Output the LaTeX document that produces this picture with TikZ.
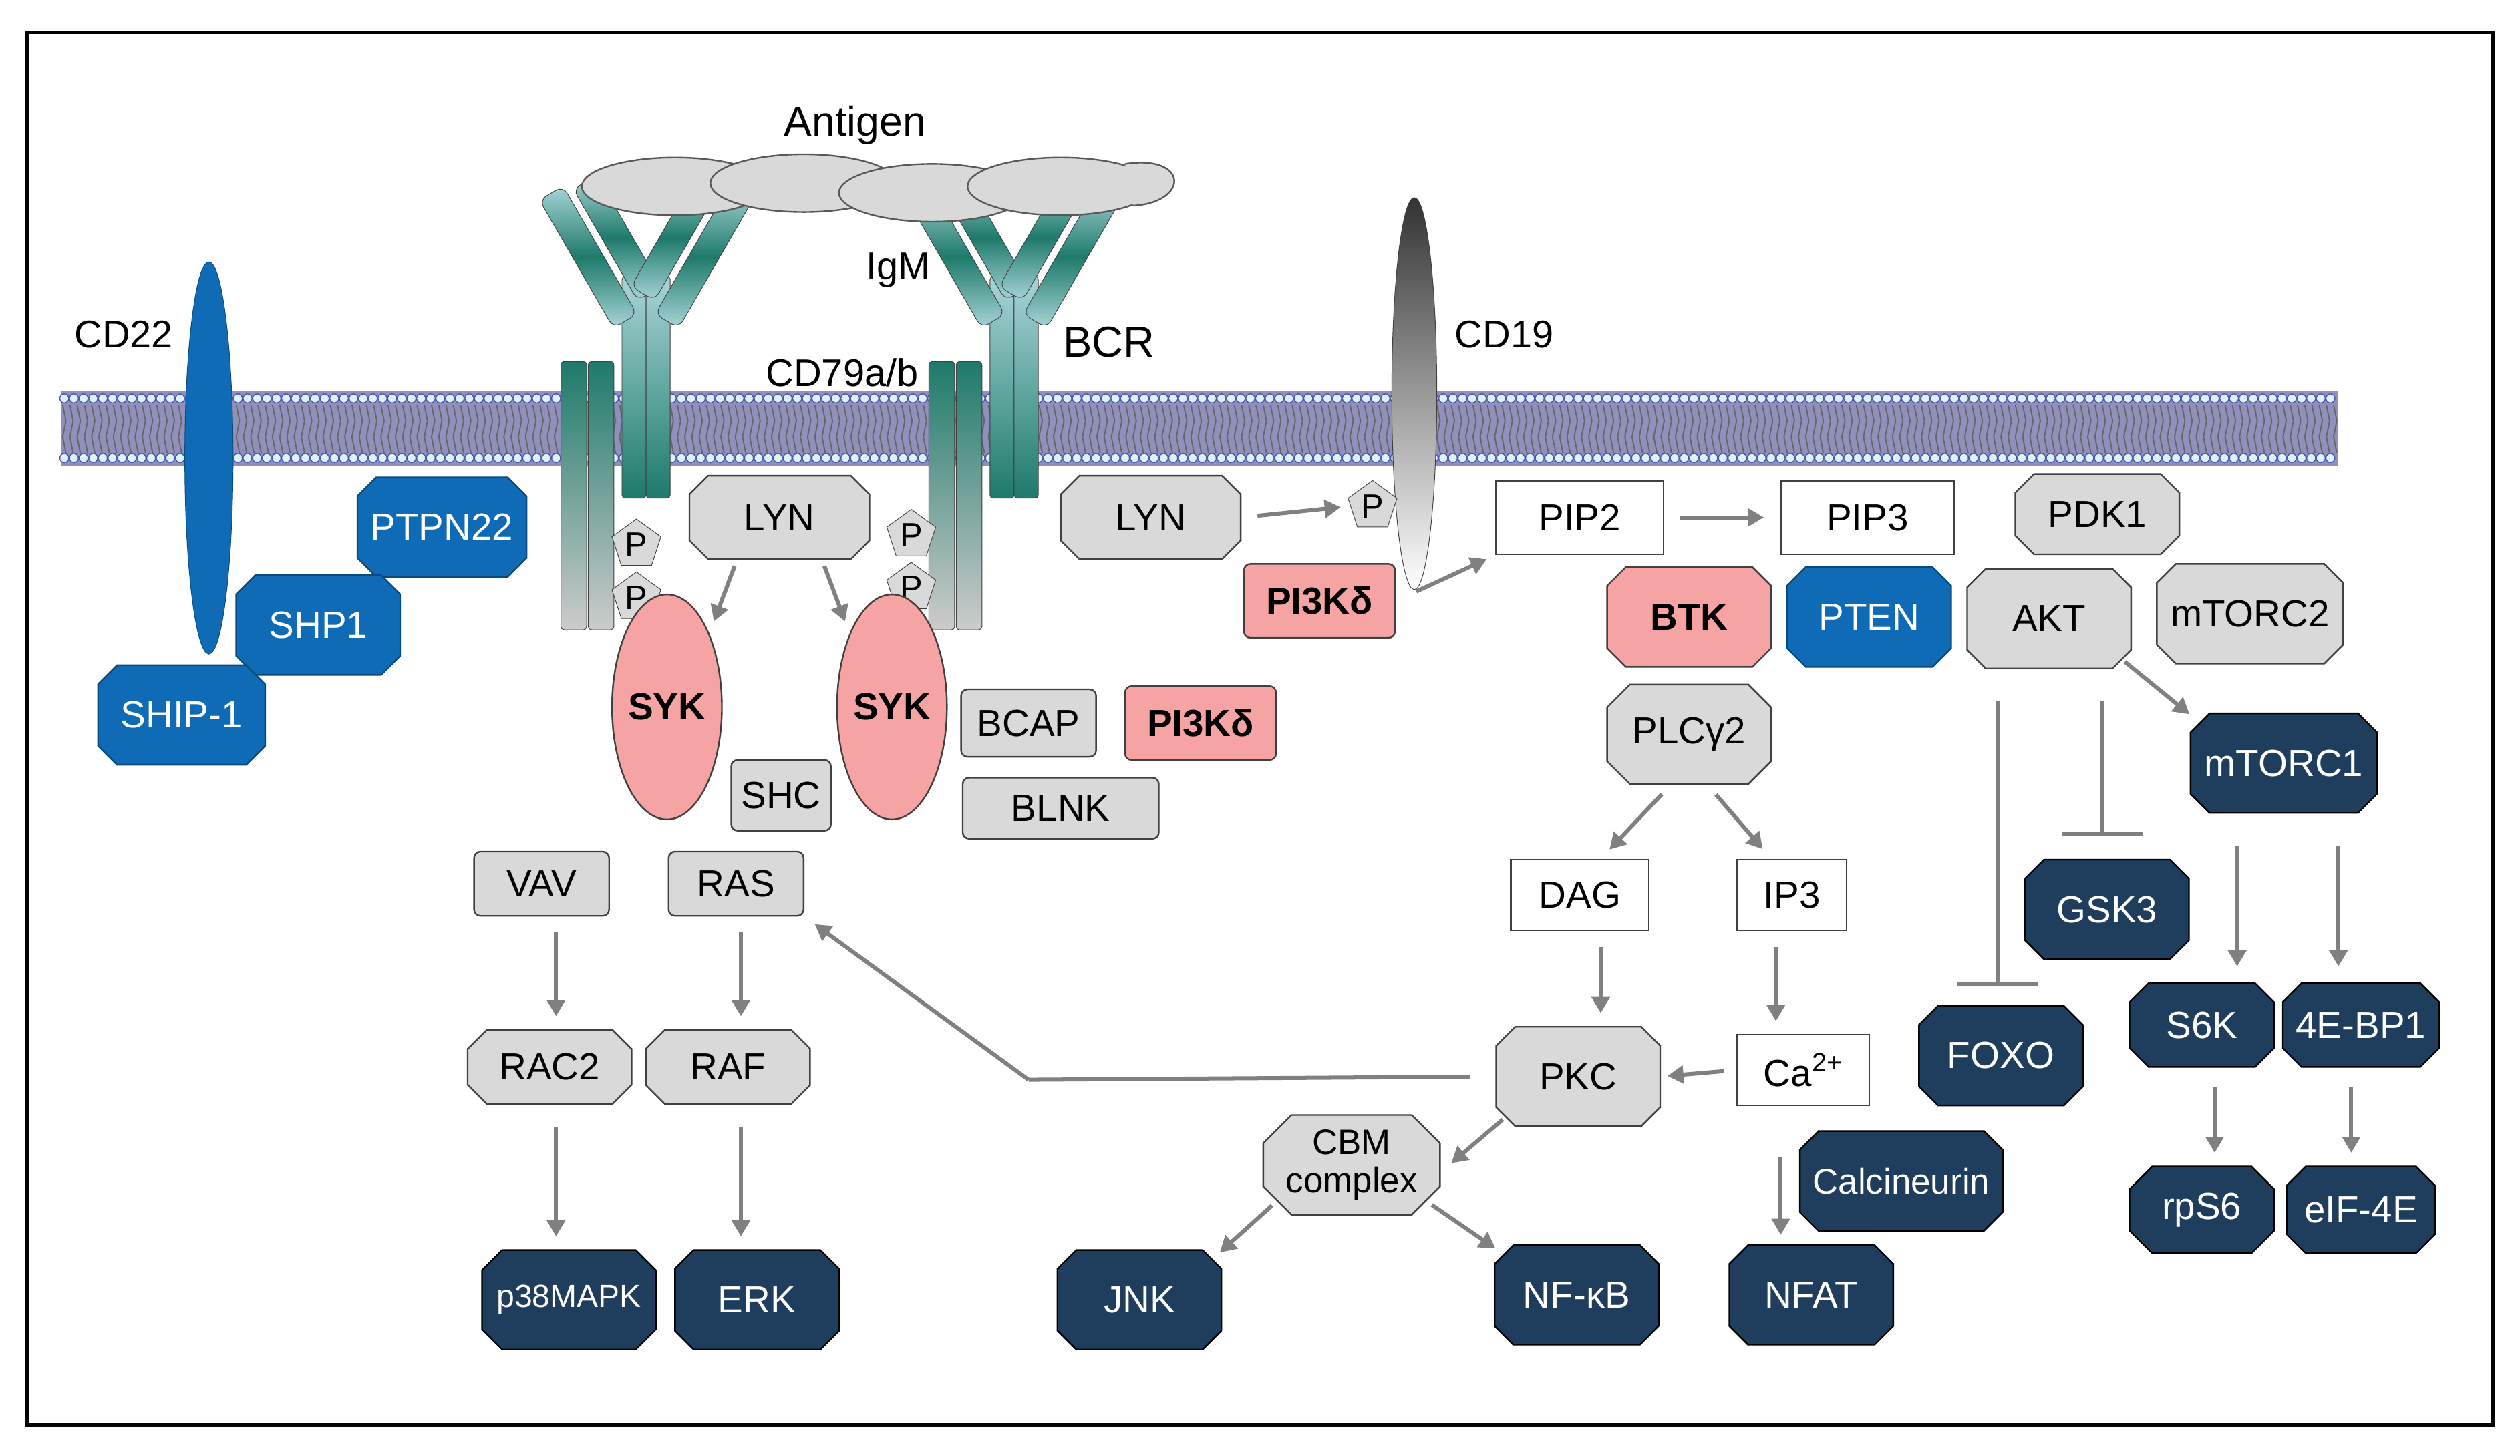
\documentclass[tikz,border=0pt]{standalone}
\usepackage{fontspec}
\setmainfont{Liberation Sans}
\usetikzlibrary{shapes.misc,shapes.geometric,arrows.meta}
\definecolor{bl}{HTML}{0F6BB5}
\definecolor{nv}{HTML}{1F3E5E}
\definecolor{gf}{HTML}{D9D9D9}
\definecolor{pk}{HTML}{F5A3A3}
\definecolor{ol}{HTML}{404040}
\definecolor{ar}{HTML}{808080}
\definecolor{tl}{HTML}{1E7A6A}
\definecolor{lc}{HTML}{A8D5D8}
\begin{document}
\begin{tikzpicture}[x=1pt,y=-1pt,
  every node/.style={font=\fontsize{23.5}{27}\selectfont},
  oct/.style={chamfered rectangle, chamfered rectangle xsep=14pt, draw=ol, line width=1pt, inner sep=0pt},
  g/.style={oct, fill=gf, text=black},
  b/.style={oct, fill=bl, draw=bl!70!black, text=white},
  n/.style={oct, fill=nv, draw=black, text=white},
  rr/.style={rounded corners=4pt, draw=ol, fill=gf, line width=1pt, inner sep=0pt},
  pr/.style={rounded corners=4pt, draw=ol, fill=pk, line width=1pt, inner sep=0pt, font=\fontsize{23.5}{27}\selectfont\bfseries},
  wr/.style={draw=ol, fill=white, line width=1pt, inner sep=0pt},
  pp/.style={regular polygon, regular polygon sides=5, draw=ol, fill=gf, inner sep=0pt, minimum size=32pt, font=\fontsize{21}{24}\selectfont},
  arr/.style={draw=ar, line width=2.5pt, -{Triangle[length=10pt,width=11pt]}, shorten >=4pt, shorten <=4pt},
  inh/.style={draw=ar, line width=2.5pt, -{Bar[width=50pt,line width=2.5pt]}},
  lab/.style={font=\fontsize{24}{27}\selectfont},
  arm/.style={minimum width=17pt, inner sep=0pt, top color=lc, bottom color=lc, middle color=tl, draw=ol, rounded corners=5pt}
]
\useasboundingbox (0,0) rectangle (1568,906);
\fill[white] (0,0) rectangle (1568,906);
\draw[line width=2pt] (17,20) rectangle (1551,887);
% membrane
\fill[blue!25!gray!70] (38,243) rectangle (1455,290);
\foreach \x in {39,43.5,...,1455} {\draw[black!60, line width=0.8pt] (\x,252) -- (\x+2,262) -- (\x,272) -- (\x+2,282);}
\foreach \x in {40,46,...,1452} {
  \draw[fill=cyan!15, draw=blue!35!gray, line width=0.6pt] (\x,248) circle (2.8);
  \draw[fill=cyan!15, draw=blue!35!gray, line width=0.6pt] (\x,285) circle (2.8);}
% receptors
\foreach \s in {0,229}{
 \begin{scope}[xshift=\s pt]
  \foreach \bx in {349,366}{\shade[top color=tl, bottom color=gray!40, draw=ol, rounded corners=2pt] (\bx,225) rectangle (\bx+16,392);}
  \foreach \bx in {387,402}{\shade[top color=lc, middle color=lc, bottom color=tl, draw=ol, rounded corners=2pt] (\bx,172) rectangle (\bx+15,310);}
  \node[arm, rotate=30, minimum height=92pt] (al\s) at (366,160) {};
  \node[arm, rotate=30, minimum height=80pt] (ai\s) at (384,148) {};
  \node[arm, rotate=-30, minimum height=92pt] (ar\s) at (438,160) {};
  \node[arm, rotate=-30, minimum height=80pt] (aj\s) at (420,148) {};
 \end{scope}}
% antigen
\foreach \cx/\cy in {420/116,500/114,580/120,660/116}{
  \draw[fill=gf, draw=gray!70!black, line width=1pt] (\cx,\cy) ellipse (58 and 18);}
\draw[fill=gf, draw=gray!70!black, line width=1pt] (700,102) .. controls (740,96) and (740,126) .. (705,128);
\node[lab, font=\fontsize{26}{29}\selectfont] (antigen) at (532,78) {Antigen};
\node[lab] (igm) at (559,168) {IgM};
\node[font=\fontsize{27}{30}\selectfont] (bcr) at (690,213) {BCR};
\node[lab] (cd79) at (524,232) {CD79a/b};
% CD22, CD19
\node[ellipse, fill=bl, draw=bl!70!black, minimum width=30pt, minimum height=244pt, inner sep=0pt] (cd22) at (130,285) {};
\node[lab] (cd22l) at (77,208) {CD22};
\node[ellipse, top color=gray!40!black, bottom color=white, draw=ol, minimum width=28pt, minimum height=244pt, inner sep=0pt] (cd19) at (880,245) {};
\node[lab] (cd19l) at (936,208) {CD19};
% P pentagons
\node[pp] (p1) at (396,339) {P};
\node[pp] (p2) at (396,372) {P};
\node[pp] (p3) at (567,333) {P};
\node[pp] (p4) at (567,366) {P};
\node[pp] (p5) at (854,315) {P};
% blue
\node[b, minimum width=105pt, minimum height=62pt] (ptpn) at (275,328) {PTPN22};
\node[b, minimum width=102pt, minimum height=62pt] (shp1) at (198,389) {SHP1};
\node[b, minimum width=104pt, minimum height=62pt] (ship) at (113,445) {SHIP-1};
\node[b, minimum width=102pt, minimum height=62pt] (pten) at (1163,384) {PTEN};
% SYK
\node[ellipse, fill=pk, draw=ol, line width=1pt, minimum width=60pt, minimum height=140pt, inner sep=0pt, font=\fontsize{23.5}{27}\selectfont\bfseries] (syk1) at (415,440) {SYK};
\node[ellipse, fill=pk, draw=ol, line width=1pt, minimum width=60pt, minimum height=140pt, inner sep=0pt, font=\fontsize{23.5}{27}\selectfont\bfseries] (syk2) at (555,440) {SYK};
% gray octagons
\node[g, minimum width=112pt, minimum height=52pt] (lyn1) at (485,322) {LYN};
\node[g, minimum width=112pt, minimum height=52pt] (lyn2) at (716,322) {LYN};
\node[g, minimum width=102pt, minimum height=50pt] (pdk1) at (1305,320) {PDK1};
\node[g, minimum width=102pt, minimum height=62pt] (akt) at (1275,385) {AKT};
\node[g, minimum width=116pt, minimum height=62pt] (mtorc2) at (1400,382) {mTORC2};
\node[g, minimum width=102pt, minimum height=62pt] (plc) at (1051,457) {PLCγ2};
\node[g, minimum width=102pt, minimum height=46pt] (rac2) at (342,664) {RAC2};
\node[g, minimum width=102pt, minimum height=46pt] (raf) at (453,664) {RAF};
\node[g, minimum width=102pt, minimum height=62pt] (pkc) at (982,670) {PKC};
\node[g, minimum width=102pt, minimum height=62pt, align=center, font=\fontsize{22}{24}\selectfont] (cbm) at (841,725) {CBM\\complex};
\node[oct, fill=pk, minimum width=102pt, minimum height=62pt, font=\fontsize{23.5}{27}\selectfont\bfseries] (btk) at (1051,384) {BTK};
% rounded rects
\node[rr, minimum width=84pt, minimum height=42pt] (bcap) at (640,450) {BCAP};
\node[rr, minimum width=122pt, minimum height=38pt] (blnk) at (660,503) {BLNK};
\node[rr, minimum width=62pt, minimum height=44pt] (shc) at (486,495) {SHC};
\node[rr, minimum width=84pt, minimum height=40pt] (vav) at (337,550) {VAV};
\node[rr, minimum width=84pt, minimum height=40pt] (ras) at (458,550) {RAS};
\node[pr, minimum width=94pt, minimum height=46pt] (pi3k1) at (747,450) {PI3Kδ};
\node[pr, minimum width=94pt, minimum height=46pt] (pi3k2) at (821,374) {PI3Kδ};
% white rects
\node[wr, minimum width=104pt, minimum height=46pt] (pip2) at (983,322) {PIP2};
\node[wr, minimum width=108pt, minimum height=46pt] (pip3) at (1162,322) {PIP3};
\node[wr, minimum width=86pt, minimum height=44pt] (dag) at (983,557) {DAG};
\node[wr, minimum width=68pt, minimum height=44pt] (ip3) at (1115,557) {IP3};
\node[wr, minimum width=82pt, minimum height=44pt] (ca) at (1122,666) {Ca\textsuperscript{2+}};
% navy
\node[n, minimum width=102pt, minimum height=62pt, font=\fontsize{20}{23}\selectfont] (p38) at (354,809) {p38MAPK};
\node[n, minimum width=102pt, minimum height=62pt] (erk) at (471,809) {ERK};
\node[n, minimum width=102pt, minimum height=62pt] (jnk) at (709,809) {JNK};
\node[n, minimum width=102pt, minimum height=62pt] (nfkb) at (981,806) {NF-κB};
\node[n, minimum width=102pt, minimum height=62pt] (nfat) at (1127,806) {NFAT};
\node[n, minimum width=118pt, minimum height=62pt, font=\fontsize{22}{24}\selectfont] (calc) at (1183,735) {Calcineurin};
\node[n, minimum width=102pt, minimum height=62pt] (foxo) at (1245,657) {FOXO};
\node[n, minimum width=102pt, minimum height=62pt] (gsk3) at (1311,566) {GSK3};
\node[n, minimum width=116pt, minimum height=62pt] (mtorc1) at (1421,475) {mTORC1};
\node[n, minimum width=90pt, minimum height=52pt] (s6k) at (1370,638) {S6K};
\node[n, minimum width=92pt, minimum height=52pt] (ebp) at (1469,638) {4E-BP1};
\node[n, minimum width=90pt, minimum height=54pt] (rps6) at (1370,753) {rpS6};
\node[n, minimum width=92pt, minimum height=54pt] (eif) at (1469,753) {eIF-4E};
% arrows
\draw[arr, shorten >=8pt] (lyn1.225) -- (syk1.60);
\draw[arr, shorten >=8pt] (lyn1.315) -- (syk2.120);
\draw[arr, shorten <=10pt, shorten >=6pt] (lyn2.east) -- (p5.west);
\draw[arr, shorten <=14pt, shorten >=6pt] (pi3k2.east) -- (pip2.south west);
\draw[arr, shorten <=10pt, shorten >=10pt] (pip2) -- (pip3);
\draw[arr, shorten <=8pt, shorten >=8pt] (plc.250) -- (dag.60);
\draw[arr, shorten <=8pt, shorten >=8pt] (plc.290) -- (ip3.120);
\draw[arr, shorten <=10pt, shorten >=8pt] (dag.south -| 996,0) -- (pkc.north -| 996,0);
\draw[arr, shorten <=10pt, shorten >=8pt] (ip3.south -| 1105,0) -- (ca.north -| 1105,0);
\draw[arr, shorten <=8pt] (ca.west) -- (pkc.east);
\coordinate (bend) at (640,672);
\draw[draw=ar, line width=2.5pt, shorten <=16pt] (pkc.west) -- (bend);
\draw[arr, shorten <=0pt, shorten >=8pt] (bend) -- (ras.south east);
\coordinate (cbmin) at (903,724);
\draw[arr, shorten <=2pt, shorten >=0pt] (pkc.south west) -- (cbmin);
\draw[arr, shorten >=6pt] (cbm.south west) -- (jnk.north east);
\draw[arr, shorten >=6pt] (cbm.south east) -- (nfkb.north west);
\coordinate (nfa) at (1108,720);
\draw[arr, shorten <=0pt, shorten >=6pt] (nfa) -- (nfat.north -| 1108,0);
\draw[arr, shorten <=10pt, shorten >=8pt] (vav.south -| 346,0) -- (rac2.north -| 346,0);
\draw[arr, shorten <=10pt, shorten >=8pt] (ras.south -| 461,0) -- (raf.north -| 461,0);
\draw[arr, shorten <=14pt, shorten >=8pt] (rac2.south -| 346,0) -- (p38.north -| 346,0);
\draw[arr, shorten <=14pt, shorten >=8pt] (raf.south -| 461,0) -- (erk.north -| 461,0);
\draw[arr, shorten <=2pt, shorten >=8pt] (akt.south east) -- (mtorc1.north west);
\draw[inh, shorten <=20pt, shorten >=12pt] (akt.south -| 1243,0) -- (foxo.north -| 1243,0);
\draw[inh, shorten <=20pt, shorten >=14pt] (akt.south -| 1308,0) -- (gsk3.north -| 1308,0);
\draw[arr, shorten <=20pt, shorten >=10pt] (mtorc1.south -| 1392,0) -- (s6k.north -| 1392,0);
\draw[arr, shorten <=20pt, shorten >=10pt] (mtorc1.south -| 1455,0) -- (ebp.north -| 1455,0);
\draw[arr, shorten <=12pt, shorten >=8pt] (s6k.south -| 1378,0) -- (rps6.north -| 1378,0);
\draw[arr, shorten <=12pt, shorten >=8pt] (ebp.south -| 1463,0) -- (eif.north -| 1463,0);
\end{tikzpicture}
\end{document}
